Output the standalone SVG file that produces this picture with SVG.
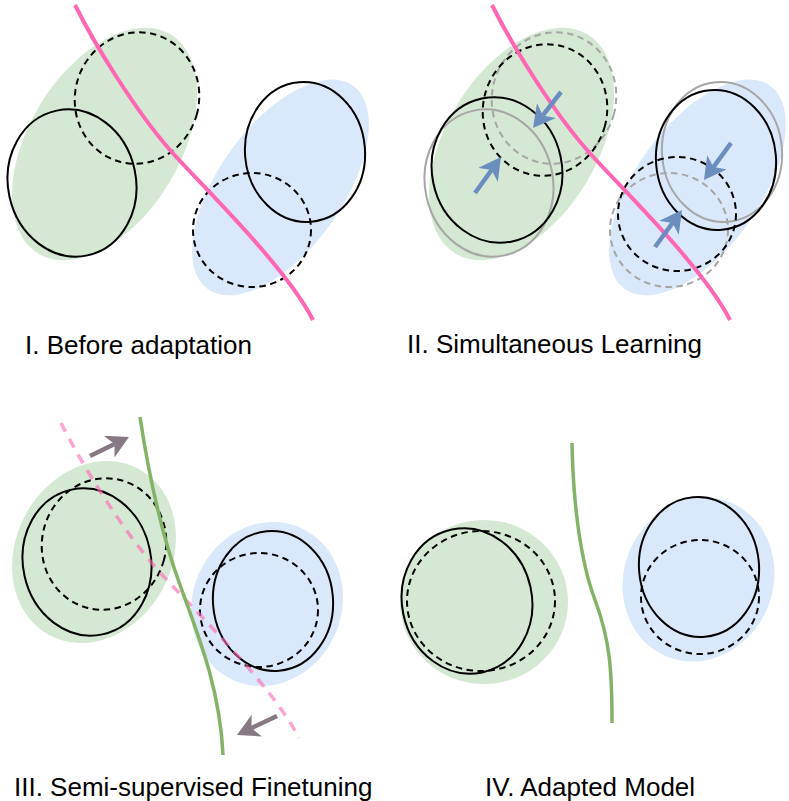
<svg xmlns="http://www.w3.org/2000/svg" width="789" height="801" viewBox="0 0 789 801">
<style>
.gb{fill:#d5e8d4;stroke:none}
.bb{fill:#dae8fc;stroke:none}
.s{fill:none;stroke:#000;stroke-width:2}
.d{fill:none;stroke:#000;stroke-width:2;stroke-dasharray:6.5 4.5}
.gs{fill:none;stroke:#a6a6a6;stroke-width:2}
.gd{fill:none;stroke:#a6a6a6;stroke-width:2;stroke-dasharray:6.5 4.5}
.pink{fill:none;stroke:#ff66b3;stroke-width:4}
.pinkd{fill:none;stroke:#ff66b3;stroke-opacity:0.6;stroke-width:3.5;stroke-dasharray:10 8}
.gl{fill:none;stroke:#82b366;stroke-width:3.5}
.ba{fill:none;stroke:#6c8ebf;stroke-width:4.5}
.ga{fill:none;stroke:#857a84;stroke-width:4.5}
.t{font-family:"Liberation Sans",Arial,sans-serif;font-size:26px;fill:#000}
</style>
<defs>
<marker id="mb" viewBox="0 0 22 24" markerWidth="22" markerHeight="24" refX="6" refY="12" orient="auto" markerUnits="userSpaceOnUse">
<path d="M0,0 L22,12 L0,24 L6,12 Z" fill="#6c8ebf"/>
</marker>
<marker id="mg" viewBox="0 0 22 24" markerWidth="22" markerHeight="24" refX="6" refY="12" orient="auto" markerUnits="userSpaceOnUse">
<path d="M0,0 L22,12 L0,24 L6,12 Z" fill="#857a84"/>
</marker>
<path id="curve" d="M75,5 C95,45 135,110 170,150 C198,182 285,265 313,320"/>
</defs>

<g id="panel1">
<g id="p1-green-cluster">
<ellipse class="gb" cx="104.5" cy="144" rx="128" ry="75.5" transform="rotate(-58.8 104.5 144)"/>
<ellipse class="s" cx="72" cy="183" rx="64" ry="74" transform="rotate(-12 72 183)"/>
<ellipse class="d" cx="137" cy="98" rx="62" ry="66" transform="rotate(15 137 98)"/>
</g>
<g id="p1-blue-cluster">
<ellipse class="bb" cx="280.5" cy="187.5" rx="125" ry="62" transform="rotate(-54.5 280.5 187.5)"/>
<ellipse class="s" cx="305" cy="152" rx="60" ry="70" transform="rotate(-5 305 152)"/>
<ellipse class="d" cx="252" cy="230" rx="59" ry="57"/>
</g>
<text class="t" x="25" y="354">I. Before adaptation</text>
</g>

<g id="panel2">
<g id="p2-green-cluster">
<ellipse class="gb" cx="521.5" cy="144" rx="128" ry="75.5" transform="rotate(-58.8 521.5 144)"/>
<ellipse class="gs" cx="489" cy="183" rx="64" ry="74" transform="rotate(-12 489 183)"/>
<ellipse class="gd" cx="554" cy="98" rx="62" ry="66" transform="rotate(15 554 98)"/>
<ellipse class="s" cx="497" cy="170" rx="65" ry="73" transform="rotate(-12 497 170)"/>
<ellipse class="d" cx="545" cy="110" rx="62" ry="66" transform="rotate(15 545 110)"/>
</g>
<g id="p2-blue-cluster">
<ellipse class="bb" cx="697.5" cy="187.5" rx="125" ry="62" transform="rotate(-54.5 697.5 187.5)"/>
<ellipse class="gs" cx="722" cy="152" rx="60" ry="70" transform="rotate(-5 722 152)"/>
<ellipse class="gd" cx="669" cy="230" rx="59" ry="57"/>
<ellipse class="s" cx="716" cy="160" rx="60" ry="70" transform="rotate(-5 716 160)"/>
<ellipse class="d" cx="677" cy="214" rx="59" ry="57"/>
</g>
<text class="t" x="407" y="353">II. Simultaneous Learning</text>
</g>

<g id="panel3">
<g id="p3-green-cluster">
<ellipse class="gb" cx="94" cy="552" rx="78" ry="94.4" transform="rotate(28.3 94 552)"/>
<ellipse class="s" cx="87" cy="562" rx="64" ry="74" transform="rotate(-12 87 562)"/>
<ellipse class="d" cx="104" cy="544" rx="62" ry="66" transform="rotate(15 104 544)"/>
</g>
<g id="p3-blue-cluster">
<ellipse class="bb" cx="267" cy="604" rx="74.6" ry="83.3" transform="rotate(23 267 604)"/>
<ellipse class="s" cx="273" cy="601" rx="60" ry="70" transform="rotate(-5 273 601)"/>
<ellipse class="d" cx="259" cy="610" rx="59" ry="57"/>
</g>
<text class="t" x="14" y="796">III. Semi-supervised Finetuning</text>
</g>

<g id="panel4">
<g id="p4-green-cluster">
<ellipse class="gb" cx="484" cy="602" rx="84" ry="82"/>
<ellipse class="s" cx="467" cy="601" rx="65" ry="73" transform="rotate(-12 467 601)"/>
<ellipse class="d" cx="481" cy="601" rx="74" ry="70"/>
</g>
<g id="p4-blue-cluster">
<ellipse class="bb" cx="698.5" cy="579.5" rx="74.6" ry="83.3" transform="rotate(23 698.5 579.5)"/>
<ellipse class="s" cx="699" cy="567" rx="60" ry="70" transform="rotate(-5 699 567)"/>
<ellipse class="d" cx="700" cy="597" rx="59" ry="57"/>
</g>
<text class="t" x="485" y="796">IV. Adapted Model</text>
</g>

<g id="connectors">
<use href="#curve" class="pink"/>
<use href="#curve" class="pink" transform="translate(417 0)"/>
<use href="#curve" class="pinkd" transform="translate(-14 418)"/>
<path class="gl" d="M140,417 C148,470 160,530 180,585 C200,640 220,690 223,755"/>
<path class="gl" d="M572,443 C573,500 580,560 595,600 C610,640 612,670 612,723"/>
<line class="ba" x1="561" y1="92" x2="542.8" y2="115.4" marker-end="url(#mb)"/>
<line class="ba" x1="475" y1="193" x2="491.6" y2="170" marker-end="url(#mb)"/>
<line class="ba" x1="731" y1="143" x2="713.4" y2="167.1" marker-end="url(#mb)"/>
<line class="ba" x1="655" y1="247" x2="672.6" y2="222.9" marker-end="url(#mb)"/>
<line class="ga" x1="90" y1="456" x2="114.6" y2="444" marker-end="url(#mg)"/>
<line class="ga" x1="277" y1="716" x2="251.4" y2="728.1" marker-end="url(#mg)"/>
</g>
</svg>
